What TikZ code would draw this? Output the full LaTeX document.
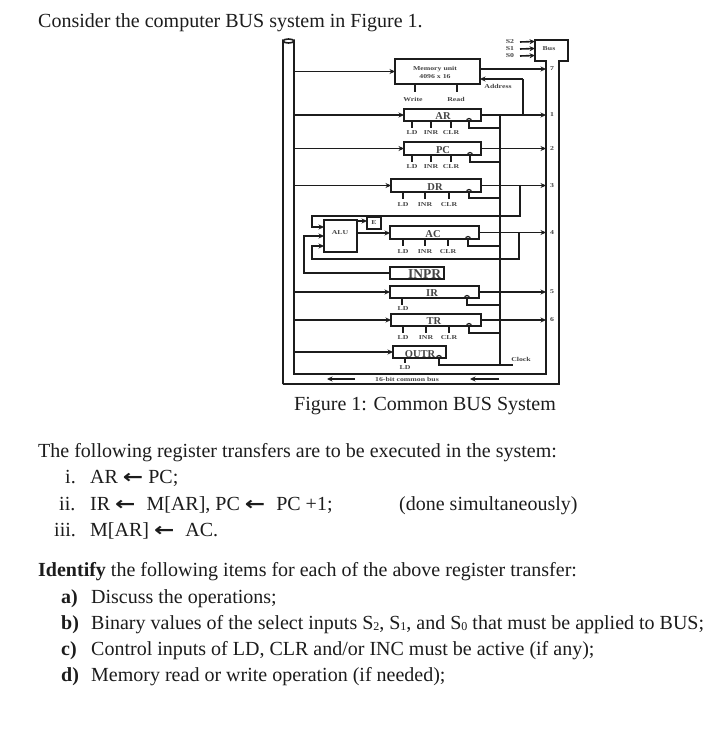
\documentclass[tikz,border=0pt]{standalone}
\usepackage{fontspec}
\setmainfont{Liberation Serif}
\newfontfamily\arrowfont{DejaVu Sans Bold}
\usetikzlibrary{arrows.meta}
\definecolor{ink}{HTML}{1C1C1C}
\definecolor{lbl}{HTML}{444444}
\newcommand{\larr}{\scalebox{1.35}[1.05]{\arrowfont\fontsize{18}{18}\selectfont\symbol{"2190}}}
\newcommand{\sbs}[1]{\raisebox{-1.5pt}{\fontsize{12}{12}\selectfont #1}}
\tikzset{
 x=1pt,y=-1pt,
 wire/.style={draw=ink,line width=1.6pt},
 arr/.style={wire,-{Stealth[length=5.5pt,width=5pt]}},
 box/.style={draw=ink,line width=1.7pt,fill=white,rectangle,inner sep=0pt,outer sep=0pt},
 reg/.style={font=\fontsize{10.5}{10.5}\selectfont\bfseries,text=lbl,inner sep=0pt},
 tiny/.style={font=\fontsize{6}{6}\selectfont\bfseries,text=lbl,inner sep=0pt,transform shape,xscale=1.3},
 para/.style={anchor=base west,inner sep=0pt,font=\fontsize{20}{20}\selectfont,text=ink},
 clk/.style={draw=ink,line width=1.2pt},
}
\newcommand{\regbox}[5]{% name, x1, y1, x2, y2
 \node[box,minimum width={#4-#2},minimum height={#5-#3}] (#1) at ({(#2+#4)/2},{(#3+#5)/2}) {};}
\begin{document}
\begin{tikzpicture}
\useasboundingbox (0,0) rectangle (719,751);
\fill[white] (0,0) rectangle (719,751);
% bus outline
\coordinate (busl) at (294,100);
\coordinate (busr) at (546,100);
\draw[wire] (283,384) -- (283,41) arc[start angle=180,end angle=0,x radius=5.5,y radius=2] -- (294,374) -- (546,374) -- (546,61);
\draw[wire] (283,41) arc[start angle=180,end angle=360,x radius=5.5,y radius=2];
\draw[wire] (283,384) -- (559,384) -- (559,61);
\node[box,minimum width=33pt,minimum height=21pt] (bus) at (551.5,50.5) {};
\draw[white,line width=2.1pt] (547,61) -- (558,61);
\node[tiny] (buslabel) at (549,49) {Bus};
\foreach \n/\y/\t in {s2/42/S2,s1/49/S1,s0/56/S0}{
 \node[tiny] (\n) at (510,\y-.5) {\t};
 \draw[arr] (520,\y) -- (\n -| bus.west);
}
% memory
\node[box,minimum width=85pt,minimum height=25pt] (mem) at (437.5,71.5) {};
\node[tiny] (mem1) at (435,69) {Memory unit};
\node[tiny] (mem2) at (435,77) {4096 x 16};
\draw[arr] (mem.west -| busl) -- (mem.west);
\coordinate (m7) at (480,69);
\draw[arr] (m7) -- (m7 -| busr);
\node[tiny] (l7) at (552,69) {7};
\coordinate (wr) at (415,84); \coordinate (wrb) at (415,92);
\coordinate (rd) at (457,84); \coordinate (rdb) at (457,92);
\draw[wire] (wr)--(wrb); \draw[wire] (rd)--(rdb);
\node[tiny] (wl) at (413,99) {Write};
\node[tiny] (rl) at (456,99) {Read};
% registers
\regbox{ar}{404}{109}{481}{121}
\regbox{pc}{404}{142}{481}{155}
\regbox{dr}{391}{179}{481}{192}
\regbox{ac}{390}{226}{479}{239}
\regbox{inpr}{390}{267}{444}{279}
\regbox{ir}{390}{286}{479}{298}
\regbox{tr}{391}{314}{481}{326}
\regbox{outr}{393}{346}{446}{358}
\node[reg] (tar) at (443,116) {AR};
\node[reg] (tpc) at (443,150.5) {PC};
\node[reg] (tdr) at (435,187) {DR};
\node[reg] (tac) at (433,234) {AC};
\node[reg,font=\fontsize{13.5}{13.5}\selectfont\bfseries] (tinpr) at (424.5,274) {INPR};
\node[reg] (tir) at (432,293.5) {IR};
\node[reg] (ttr) at (434,321.5) {TR};
\node[reg] (toutr) at (420,354) {OUTR};
\foreach \r in {ar,pc,dr,ir,tr,outr}{
 \draw[arr] (\r.west -| busl) -- (\r.west);
}
\foreach \r/\n in {ar/1,pc/2,dr/3,ac/4,ir/5,tr/6}{
 \draw[arr] (\r.east) -- (\r.east -| busr);
 \node[tiny] (n\n) at (552,0 |- \r.east) {\n};
}
% load lines
\foreach \r/\a/\b/\c/\yy in {ar/412/431/451/133,pc/412/431/451/167,dr/403/425/449/205,ac/403/425/448/252,tr/403/426/449/338}{
 \foreach \x in {\a,\b,\c}{ \draw[wire] (\x,0 |- \r.south) -- ++(0,7); }
 \node[tiny] (\r ld) at (\a,\yy) {LD};
 \node[tiny] (\r in) at (\b,\yy) {INR};
 \node[tiny] (\r cl) at (\c,\yy) {CLR};
}
\draw[wire] (402,298) -- (402,305); \node[tiny] (irld) at (403,308.5) {LD};
\draw[wire] (405,358) -- (405,363); \node[tiny] (outld) at (405,368) {LD};
% clock
\coordinate (clktop) at (500,115);
\coordinate (clkbot) at (500,365);
\draw[wire] (clktop) -- (clkbot);
\foreach \r/\x/\yb in {ar/469/128,pc/470/162,dr/469/198,ac/468/246,ir/467/305,tr/469/333}{
 \coordinate (c\r) at (\x,\yb);
 \draw[wire] (\x,0 |- \r.south) -- (c\r) -- (c\r -| clktop);
 \draw[clk] (\x-2.5,0 |- \r.south) arc[start angle=180,end angle=360,radius=2.5];
}
\coordinate (coutr) at (439,365);
\coordinate (clkend) at (513,365);
\draw[wire] (439,358) -- (coutr) -- (clkend);
\draw[clk] (436.5,358) arc[start angle=180,end angle=360,radius=2.5];
\node[tiny] (clkl) at (521,359) {Clock};
% address
\coordinate (addr) at (523,115);
\coordinate (addrt) at (523,79);
\draw[wire] (addr) -- (addrt);
\draw[arr] (addrt) -- (addrt -| mem.east);
\node[tiny] (addrlabel) at (498,86) {Address};
% ALU
\node[box,minimum width=33pt,minimum height=32pt] (alu) at (340.5,236) {};
\node[tiny] (alul) at (340,233) {ALU};
\node[box,minimum width=14pt,minimum height=12pt] (e) at (374,223) {};
\node[tiny] (el) at (374,223) {E};
\coordinate (aluE) at (357,221);
\draw[arr] (aluE) -- (aluE -| e.west);
\coordinate (aluA) at (357,233);
\draw[arr] (aluA) -- (aluA -| ac.west);
% DR to ALU
\coordinate (dr1) at (520,185);
\coordinate (dr2) at (520,216);
\coordinate (dr3) at (312,216);
\coordinate (dr4) at (312,227);
\draw[arr] (dr1) -- (dr2) -- (dr3) -- (dr4) -- (dr4 -| alu.west);
% AC to ALU
\coordinate (ac1) at (519,232);
\coordinate (ac2) at (519,259);
\coordinate (ac3) at (312,259);
\coordinate (ac4) at (312,246);
\draw[arr] (ac1) -- (ac2) -- (ac3) -- (ac4) -- (ac4 -| alu.west);
% INPR to ALU
\coordinate (in1) at (304,273);
\coordinate (in2) at (304,236);
\draw[arr] (inpr.west) -- (in1) -- (in2) -- (in2 -| alu.west);
% bottom labels
\node[tiny] (cbus) at (407,379) {16-bit common bus};
\coordinate (la1) at (355,379); \coordinate (la2) at (327,379);
\coordinate (ra1) at (499,379); \coordinate (ra2) at (470,379);
\draw[arr] (la1) -- (la2);
\draw[arr] (ra1) -- (ra2);
% text
\node[para] (t1) at (38,28) {Consider the computer BUS system in Figure 1.};
\node[para] (cap) at (294,410) {Figure 1: Common BUS System};
\node[para] (t2) at (38,457) {The following register transfers are to be executed in the system:};
\node[para] (i1) at (65,483) {i.};
\node[para] (i2) at (90,483) {AR \larr{} PC;};
\node[para] (ii1) at (59,510) {ii.};
\node[para] (ii2) at (90,510) {IR \larr{}\hspace{6pt} M[AR], PC \larr{}\hspace{6pt} PC +1;};
\node[para] (ii3) at (399,510) {(done simultaneously)};
\node[para] (iii1) at (54,536) {iii.};
\node[para] (iii2) at (90,536) {M[AR] \larr{}\hspace{6pt} AC.};
\node[para] (t3) at (38,576) {\textbf{Identify} the following items for each of the above register transfer:};
\node[para] (a1) at (61,603) {\textbf{a)}};
\node[para] (a2) at (91,603) {Discuss the operations;};
\node[para] (b1) at (61,629) {\textbf{b)}};
\node[para] (b2) at (91,629) {Binary values of the select inputs S\sbs{2}, S\sbs{1}, and S\sbs{0} that must be applied to BUS;};
\node[para] (c1) at (61,655) {\textbf{c)}};
\node[para] (c2) at (91,655) {Control inputs of LD, CLR and/or INC must be active (if any);};
\node[para] (d1) at (61,681) {\textbf{d)}};
\node[para] (d2) at (91,681) {Memory read or write operation (if needed);};
\end{tikzpicture}
\end{document}
